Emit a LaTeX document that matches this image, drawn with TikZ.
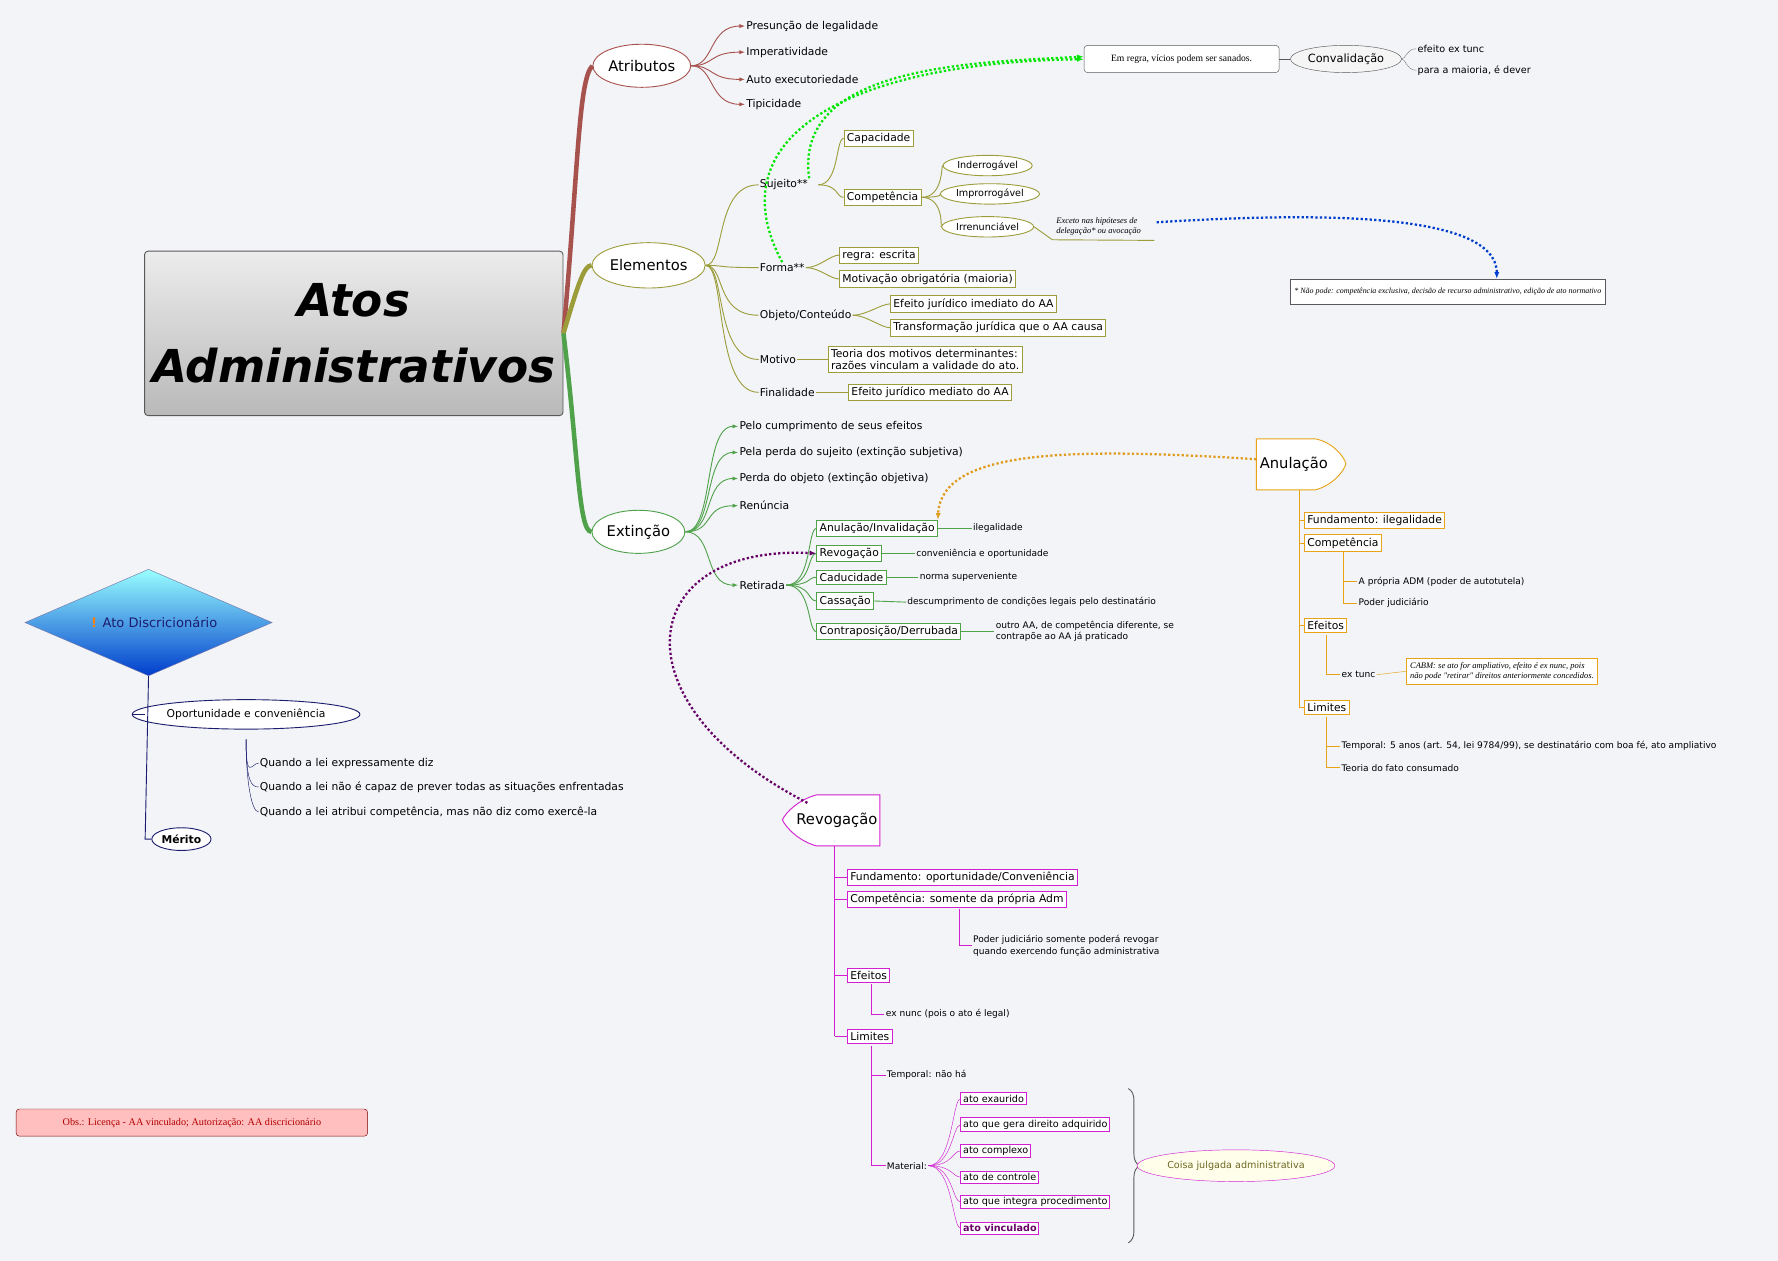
\documentclass[tikz,border=0pt]{standalone}
\usepackage{fontspec}
\setmainfont{DejaVu Sans}
\newfontfamily\serifnote{Liberation Serif}
\usetikzlibrary{arrows.meta,decorations.pathreplacing,shapes.geometric,shapes.callouts}
\definecolor{bg}{HTML}{F2F4F7}
\definecolor{cAtr}{HTML}{A8524E}
\definecolor{cEle}{HTML}{9C9C3A}
\definecolor{cExt}{HTML}{4FA24A}
\definecolor{cAnu}{HTML}{E8A317}
\definecolor{cRev}{HTML}{D21FD2}
\definecolor{cDis}{HTML}{1C1C6E}
\tikzset{
 txt/.style={anchor=west,inner sep=1pt,font=\fontsize{9.5}{11}\selectfont},
 sm/.style={anchor=west,inner sep=1pt,font=\fontsize{8}{10}\selectfont},
 bx/.style={draw=#1,thick,fill=white,anchor=west,inner sep=2.5pt,font=\fontsize{9.5}{11}\selectfont},
 el/.style={draw=#1,thick,ellipse,fill=white,inner sep=1pt,font=\fontsize{13}{15}\selectfont},
 ln/.style={draw=#1,thick},
 ar/.style={draw=#1,thick,-{Latex[length=5pt]}},
}
\begin{document}
\begin{tikzpicture}[x=1pt,y=-1pt]
\fill[bg] (0,0) rectangle (1568,1112);
\useasboundingbox (0,0) rectangle (1568,1112);
% main
\node[draw=gray!70!black,thick,rounded corners=3pt,top color=gray!15,bottom color=gray!55,minimum width=369pt,minimum height=145pt,align=center,font=\fontsize{40}{58}\bfseries\itshape\selectfont] (main) at (312,294) {Atos\\Administrativos};
% branch ellipses
\node[el=cAtr,minimum width=80pt,minimum height=38pt] (atr) at (566,58) {Atributos};
\node[el=cEle,minimum width=90pt,minimum height=40pt] (ele) at (572,234) {Elementos};
\node[el=cExt,minimum width=74pt,minimum height=38pt] (ext) at (563,469) {Extinção};
\draw[cAtr,line width=4pt] (main.east) .. controls (510,150) and (510,70) .. (atr.west);
\draw[cEle,line width=4pt] (main.east) .. controls (510,250) and (515,234) .. (ele.west);
\draw[cExt,line width=4pt] (main.east) .. controls (510,400) and (510,469) .. (ext.west);
% atributos
\foreach \t/\y [count=\i] in {Presunção de legalidade/23,Imperatividade/46,Auto executoriedade/70,Tipicidade/92}{
 \node[txt] (a\i) at (657,\y) {\t};
 \draw[ar=cAtr] (atr.east) .. controls (630,58) and (625,\y) .. (a\i.west);}
% elementos
\node[txt] (suj) at (669,163) {Sujeito**};
\node[txt] (for) at (669,236) {Forma**};
\node[txt] (obj) at (669,278) {Objeto/Conteúdo};
\node[txt] (mot) at (669,317) {Motivo};
\node[txt] (fin) at (669,346) {Finalidade};
\foreach \n in {suj,for,obj,mot,fin}{\draw[ln=cEle] (ele.east) .. controls (640,234) and (630,0|-\n.west) .. (\n.west);}
\node[bx=cEle] (cap) at (744,122) {Capacidade};
\node[bx=cEle] (com) at (744,174) {Competência};
\foreach \n in {cap,com}{\draw[ln=cEle] (suj.east)++(8,0) -- ++(0,0) .. controls (740,163) and (737,0|-\n.west) .. (\n.west);}
\node[el=cEle,font=\fontsize{8.5}{10}\selectfont,minimum width=68pt,minimum height=18pt] (in1) at (871,146) {Inderrogável};
\node[el=cEle,font=\fontsize{8.5}{10}\selectfont,minimum width=73pt,minimum height=18pt] (in2) at (873,171) {Improrrogável};
\node[el=cEle,font=\fontsize{8.5}{10}\selectfont,minimum width=68pt,minimum height=18pt] (in3) at (871,200) {Irrenunciável};
\foreach \n in {in1,in2,in3}{\draw[ln=cEle] (com.east) .. controls (832,174) and (830,0|-\n.west) .. (\n.west);}
\node[anchor=west,align=left,font=\serifnote\itshape\fontsize{7.5}{9}\selectfont] (exc) at (928,200) {Exceto nas hipóteses de\\delegação* ou avocação};
\draw[ln=cEle] (in3.east) -- (exc.south west) -- (1018,212);
\node[draw=gray!70!black,fill=white,anchor=west,font=\serifnote\itshape\fontsize{7}{9}\selectfont,minimum height=22pt] (nao) at (1138,257) {* Não pode: competência exclusiva, decisão de recurso administrativo, edição de ato normativo};
\draw[blue!70!cyan!80!black,line width=2pt,dotted,-{Latex[length=6pt]}] (1020,196) .. controls (1150,188) and (1320,185) .. (1320,246);
\node[bx=cEle] (reg) at (740,225) {regra: escrita};
\node[bx=cEle] (mo) at (740,246) {Motivação obrigatória (maioria)};
\node[bx=cEle] (ef1) at (785,268) {Efeito jurídico imediato do AA};
\node[bx=cEle] (tr) at (785,289) {Transformação jurídica que o AA causa};
\node[bx=cEle,align=left,font=\fontsize{9.5}{11}\selectfont] (teo) at (730,317) {Teoria dos motivos determinantes:\\razões vinculam a validade do ato.};
\node[bx=cEle] (ef2) at (748,346) {Efeito jurídico mediato do AA};
\foreach \a/\b in {for/reg,for/mo,obj/ef1,obj/tr,mot/teo,fin/ef2}{\draw[ln=cEle] (\a.east) .. controls ([xshift=12]\a.east) and ([xshift=-8]\b.west) .. (\b.west);}
% convalidação
\node[draw=gray!70!black,fill=white,rounded corners=3pt,font=\serifnote\fontsize{8.5}{10}\selectfont,minimum height=24pt,minimum width=172pt] (sana) at (1042,52) {Em regra, vícios podem ser sanados.};
\node[draw=gray!70!black,ellipse,fill=gray!8,font=\fontsize{10}{12}\selectfont,minimum width=78pt,minimum height=24pt,inner sep=1pt] (conv) at (1187,52) {Convalidação};
\draw[gray!70!black] (sana.east) -- (conv.west);
\node[sm,font=\fontsize{8.5}{10}\selectfont] (et) at (1249,43) {efeito ex tunc};
\node[sm,font=\fontsize{8.5}{10}\selectfont] (pm) at (1249,62) {para a maioria, é dever};
\foreach \n in {et,pm}{\draw[gray] (conv.east) .. controls (1240,52) and (1240,0|-\n.west) .. (\n.west);}
\draw[green!90!black,line width=2pt,dotted,-{Latex[length=6pt]}] (suj.north east) .. controls (700,60) and (850,55) .. ([yshift=2]sana.west);
\draw[green!90!black,line width=2pt,dotted,-{Latex[length=6pt]}] (for.north) .. controls (630,120) and (750,55) .. ([yshift=12]sana.south west);
% extinção
\foreach \t/\y [count=\i] in {Pelo cumprimento de seus efeitos/376,Pela perda do sujeito (extinção subjetiva)/399,Perda do objeto (extinção objetiva)/422,Renúncia/446,Retirada/516}{
 \node[txt] (e\i) at (651,\y) {\t};
 \draw[ar=cExt] (ext.east) .. controls (630,469) and (620,\y) .. (e\i.west);}
\node[bx=cExt] (r1) at (720,466) {Anulação/Invalidação};
\node[bx=cExt] (r2) at (720,488) {Revogação};
\node[bx=cExt] (r3) at (720,509) {Caducidade};
\node[bx=cExt] (r4) at (720,530) {Cassação};
\node[bx=cExt] (r5) at (720,557) {Contraposição/Derrubada};
\node[sm] (l1) at (857,466) {ilegalidade};
\node[sm] (l2) at (807,488) {conveniência e oportunidade};
\node[sm] (l3) at (810,509) {norma superveniente};
\node[sm] (l4) at (799,531) {descumprimento de condições legais pelo destinatário};
\node[sm,align=left] (l5) at (877,557) {outro AA, de competência diferente, se\\contrapõe ao AA já praticado};
\foreach \i in {1,...,5}{\draw[ln=cExt] (e5.east) .. controls (716,516) and (712,0|-r\i.west) .. (r\i.west); \draw[ln=cExt] (r\i.east) -- (l\i.west);}
% anulação
\draw[cAnu,thick,fill=white] (1108,387) -- (1160,387) .. controls (1175,390) and (1185,402) .. (1187,409) .. controls (1185,416) and (1175,428) .. (1160,432) -- (1108,432) -- cycle;
\node[font=\fontsize{13}{15}\selectfont] (anu) at (1141,409) {Anulação};
\coordinate (anuB) at (1146,432);
\draw[cAnu!80!brown,line width=2pt,dotted,-{Latex[length=6pt]}] (1108,405) .. controls (950,395) and (830,395) .. (r1.north east);
\node[bx=cAnu] (af) at (1150,459) {Fundamento: ilegalidade};
\node[bx=cAnu] (ac) at (1150,479) {Competência};
\node[bx=cAnu] (ae) at (1150,552) {Efeitos};
\node[bx=cAnu] (al) at (1150,624) {Limites};
\draw[cAnu,thick] (anuB) -- (1146,624);
\foreach \n in {af,ac,ae,al}{\draw[cAnu,thick] (1146,0|-\n.west) -- (\n.west);}
\node[sm] (ac1) at (1197,513) {A própria ADM (poder de autotutela)};
\node[sm] (ac2) at (1197,532) {Poder judiciário};
\draw[cAnu] (1185,487) -- (1185,532) -- (ac2.west); \draw[cAnu] (1185,513) -- (ac1.west);
\node[sm] (tunc) at (1182,595) {ex tunc};
\draw[cAnu] (1170,560) -- (1170,595) -- (tunc.west);
\node[draw=cAnu,fill=white,anchor=west,align=left,font=\serifnote\itshape\fontsize{7.5}{9}\selectfont] (cabm) at (1240,592) {CABM: se ato for ampliativo, efeito é ex nunc, pois\\não pode "retirar" direitos anteriormente concedidos.};
\draw[cAnu] (tunc.east) -- (cabm.west);
\node[sm] (at1) at (1182,658) {Temporal: 5 anos (art. 54, lei 9784/99), se destinatário com boa fé, ato ampliativo};
\node[sm] (at2) at (1182,677) {Teoria do fato consumado};
\draw[cAnu] (1170,632) -- (1170,677) -- (at2.west); \draw[cAnu] (1170,658) -- (at1.west);
% revogação
\draw[cRev,thick,fill=white] (776,701) -- (720,701) .. controls (705,705) and (693,716) .. (690,723) .. controls (693,730) and (705,742) .. (720,746) -- (776,746) -- cycle;
\node[font=\fontsize{13}{15}\selectfont] (rev) at (738,723) {Revogação};
\draw[violet!80!black,line width=2pt,dotted,-{Latex[length=6pt]}] (712,708) .. controls (540,620) and (560,480) .. (r2.west);
\node[bx=cRev] (rf) at (747,774) {Fundamento: oportunidade/Conveniência};
\node[bx=cRev] (rc) at (747,793) {Competência: somente da própria Adm};
\node[bx=cRev] (re) at (747,860) {Efeitos};
\node[bx=cRev] (rl) at (747,914) {Limites};
\draw[cRev,thick] (736,746) -- (736,914);
\foreach \n in {rf,rc,re,rl}{\draw[cRev,thick] (736,0|-\n.west) -- (\n.west);}
\node[sm,align=left] (pj) at (857,834) {Poder judiciário somente poderá revogar\\quando exercendo função administrativa};
\draw[cRev] (846,802) -- (846,834) -- (pj.west);
\node[sm] (nunc) at (780,894) {ex nunc (pois o ato é legal)};
\draw[cRev] (768,868) -- (768,894) -- (nunc.west);
\node[sm] (tn) at (781,948) {Temporal: não há};
\node[sm] (mat) at (781,1028) {Material:};
\draw[cRev] (768,922) -- (768,1028) -- (mat.west); \draw[cRev] (768,948) -- (tn.west);
\foreach \t/\y [count=\i] in {ato exaurido/969,ato que gera direito adquirido/992,ato complexo/1015,ato de controle/1038,ato que integra procedimento/1060}{
 \node[bx=cRev,font=\fontsize{8.5}{10}\selectfont,inner sep=2pt] (m\i) at (847,\y) {\t};
 \draw[cRev] (mat.east) .. controls (840,1028) and (840,\y) .. (m\i.west);}
\node[bx=cRev,font=\fontsize{8.5}{10}\bfseries\selectfont,text=violet!80!black,inner sep=2pt] (m6) at (847,1083) {ato vinculado};
\draw[cRev] (mat.east) .. controls (840,1028) and (840,1083) .. (m6.west);
\draw[gray!70!black,thick,decorate,decoration={brace,amplitude=10pt}] (995,960) -- (995,1096);
\node[draw=cRev,ellipse,fill=yellow!8,font=\fontsize{8.5}{10}\selectfont,text=olive!70!black,minimum width=146pt,minimum height=28pt,inner sep=1pt] (cj) at (1090,1028) {Coisa julgada administrativa};
% discricionário
\node[diamond,draw=cDis!60,top color=cyan!40,bottom color=blue!70!cyan!80!black,minimum width=218pt,minimum height=94pt,aspect=2.3,inner sep=0pt,font=\fontsize{11.5}{13}\selectfont] (dis) at (131,549) {};
\node[font=\fontsize{11.5}{13}\selectfont,text=cDis] at (136,549) {\textcolor{orange}{\textbf{!}} Ato Discricionário};
\node[el=cDis,font=\fontsize{9.5}{11}\selectfont,minimum width=164pt,minimum height=26pt] (opc) at (217,630) {Oportunidade e conveniência};
\node[el=cDis,font=\fontsize{9.5}{11}\bfseries\selectfont,minimum width=48pt,minimum height=20pt] (mer) at (160,740) {Mérito};
\draw[cDis,thick] (dis.south) -- (128,740) -- (mer.west);
\draw[cDis,thick] (128,630) -- (opc.west);
\foreach \t/\y [count=\i] in {Quando a lei expressamente diz/673,Quando a lei não é capaz de prever todas as situações enfrentadas/694,Quando a lei atribui competência~mas não diz como exercê-la/716}{}
\node[txt] (q1) at (228,673) {Quando a lei expressamente diz};
\node[txt] (q2) at (228,694) {Quando a lei não é capaz de prever todas as situações enfrentadas};
\node[txt] (q3) at (228,716) {Quando a lei atribui competência, mas não diz como exercê-la};
\foreach \n in {q1,q2,q3}{\draw[cDis] (217,652) .. controls (217,690) and (222,0|-\n.west) .. (\n.west);}
% obs
\node[draw=red!50!black,fill=red!25,rounded corners=3pt,anchor=west,text=red!70!black,font=\serifnote\fontsize{9}{11}\selectfont,minimum height=24pt,minimum width=310pt] (obs) at (14,990) {Obs.: Licença - AA vinculado; Autorização: AA discricionário};
\end{tikzpicture}
\end{document}
